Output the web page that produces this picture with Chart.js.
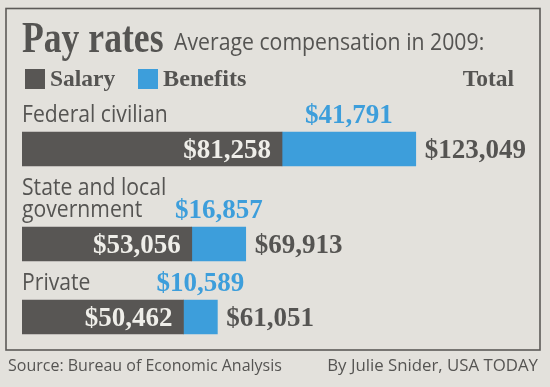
<!DOCTYPE html>
<html>
<head>
<meta charset="utf-8">
<script src="https://cdn.jsdelivr.net/npm/chart.js@4/dist/chart.umd.min.js"></script>
<style>
  html, body { margin: 0; padding: 0; background: #e3e1dc; }
  #wrap { width: 550px; height: 387px; position: relative; }
</style>
</head>
<body>
<div id="wrap"><canvas id="c" width="550" height="387"></canvas></div>
<script>
// ---- data ----
const categories = [['Federal civilian'], ['State and local', 'government'], ['Private']];
const salary = [81258, 53056, 50462];
const benefits = [41791, 16857, 10589];
const seriesNames = ['Salary', 'Benefits'];
const titleText = 'Pay rates';
const subtitleText = 'Average compensation in 2009:';
const totalHeader = 'Total';
const sourceText = 'Source: Bureau of Economic Analysis';
const creditText = 'By Julie Snider, USA TODAY';

// ---- layout constants (px) ----
const LINE_H = 22, FIRST_LABEL = 115, LABEL_TO_BAR = 34, BAR_TO_NEXT = 39;
const rowCenters = [];
(function () {
  let lbl = FIRST_LABEL;
  categories.forEach(lines => {
    const c = lbl + (lines.length - 1) * LINE_H + LABEL_TO_BAR;
    rowCenters.push(c);
    lbl = c + BAR_TO_NEXT;
  });
})();

const C_SAL = '#585654', C_BEN = '#3d9edb', C_TXT = '#555452', C_BG = '#e3e1dc';
const fmt = v => '$' + v.toLocaleString('en-US');

function txt(ctx, s, x, y, font, color, align, sx) {
  ctx.save();
  ctx.font = font;
  ctx.fillStyle = color;
  ctx.textBaseline = 'alphabetic';
  ctx.textAlign = 'left';
  sx = sx || 1;
  const w = ctx.measureText(s).width * sx;
  let x0 = x;
  if (align === 'right') x0 = x - w;
  else if (align === 'center') x0 = x - w / 2;
  ctx.translate(x0, y);
  ctx.scale(sx, 1);
  ctx.fillText(s, 0, 0);
  ctx.restore();
  return w;
}

const SERIF_B = 'bold 27px "Liberation Serif"';
const SANS = '23px "Open Sans"';

const deco = {
  id: 'deco',
  beforeDraw(chart) {
    const ctx = chart.ctx;
    ctx.save();
    ctx.fillStyle = C_BG;
    ctx.fillRect(0, 0, chart.width, chart.height);
    ctx.strokeStyle = '#5c5a58';
    ctx.lineWidth = 1.6;
    ctx.strokeRect(6, 8.5, 534, 341.5);
    ctx.restore();
  },
  afterDatasetsDraw(chart) {
    const ctx = chart.ctx;
    // header
    txt(ctx, titleText, 22, 52, 'bold 44px "Liberation Serif"', C_TXT, 'left', 0.81);
    txt(ctx, subtitleText, 174, 50, '24px "Open Sans"', C_TXT, 'left', 0.885);
    // legend
    const ds = chart.data.datasets;
    ctx.fillStyle = ds[0].backgroundColor; ctx.fillRect(25, 69, 20, 20);
    txt(ctx, ds[0].label, 50, 86, 'bold 23.5px "Liberation Serif"', C_TXT, 'left', 1);
    ctx.fillStyle = ds[1].backgroundColor; ctx.fillRect(138, 69, 20, 20);
    txt(ctx, ds[1].label, 163, 86, 'bold 23.5px "Liberation Serif"', C_TXT, 'left', 1.03);
    txt(ctx, totalHeader, 514, 86, 'bold 23.5px "Liberation Serif"', C_TXT, 'right', 1);

    const m0 = chart.getDatasetMeta(0), m1 = chart.getDatasetMeta(1);
    const xs = chart.scales.x;
    categories.forEach((lines, i) => {
      const sb = m0.data[i], bb = m1.data[i];
      const top = sb.y - sb.height / 2;
      const left = xs.getPixelForValue(0);
      // category label lines
      lines.forEach((ln, k) => {
        const base = top - 10 - (lines.length - 1 - k) * LINE_H;
        txt(ctx, ln, left, base, SANS, C_TXT, 'left', 0.92);
      });
      // benefits value above benefit segment
      const bMid = (bb.base + bb.x) / 2;
      txt(ctx, fmt(benefits[i]), bMid, top - 9, SERIF_B, C_BEN, 'center', 1);
      // salary value inside bar
      txt(ctx, fmt(salary[i]), sb.x - 11, sb.y + 8.5, SERIF_B, '#efeee9', 'right', 1);
      // total
      txt(ctx, fmt(salary[i] + benefits[i]), bb.x + 9, sb.y + 8.5, SERIF_B, C_TXT, 'left', 1);
    });
    // footer
    txt(ctx, sourceText, 8, 371, '16px "Open Sans"', C_TXT, 'left', 1);
    txt(ctx, creditText, 538, 371, '16px "Open Sans"', C_TXT, 'right', 1.05);
  }
};

new Chart(document.getElementById('c'), {
  type: 'bar',
  data: {
    datasets: [
      { label: seriesNames[0], stack: 'pay', data: salary.map((v, i) => ({ x: v, y: rowCenters[i] })),
        backgroundColor: C_SAL, barThickness: 34, borderWidth: 0 },
      { label: seriesNames[1], stack: 'pay', data: benefits.map((v, i) => ({ x: v, y: rowCenters[i] })),
        backgroundColor: C_BEN, barThickness: 34, borderWidth: 0 }
    ]
  },
  options: {
    indexAxis: 'y',
    responsive: false,
    animation: false,
    events: [],
    layout: { padding: { left: 22, right: 16, top: 0, bottom: 0 } },
    scales: {
      x: { type: 'linear', stacked: true, min: 0, max: 160000, display: false },
      y: { type: 'linear', offset: false, min: 0, max: 387, reverse: true, display: false }
    },
    plugins: { legend: { display: false }, tooltip: { enabled: false }, title: { display: false } }
  },
  plugins: [deco]
});
</script>
</body>
</html>
